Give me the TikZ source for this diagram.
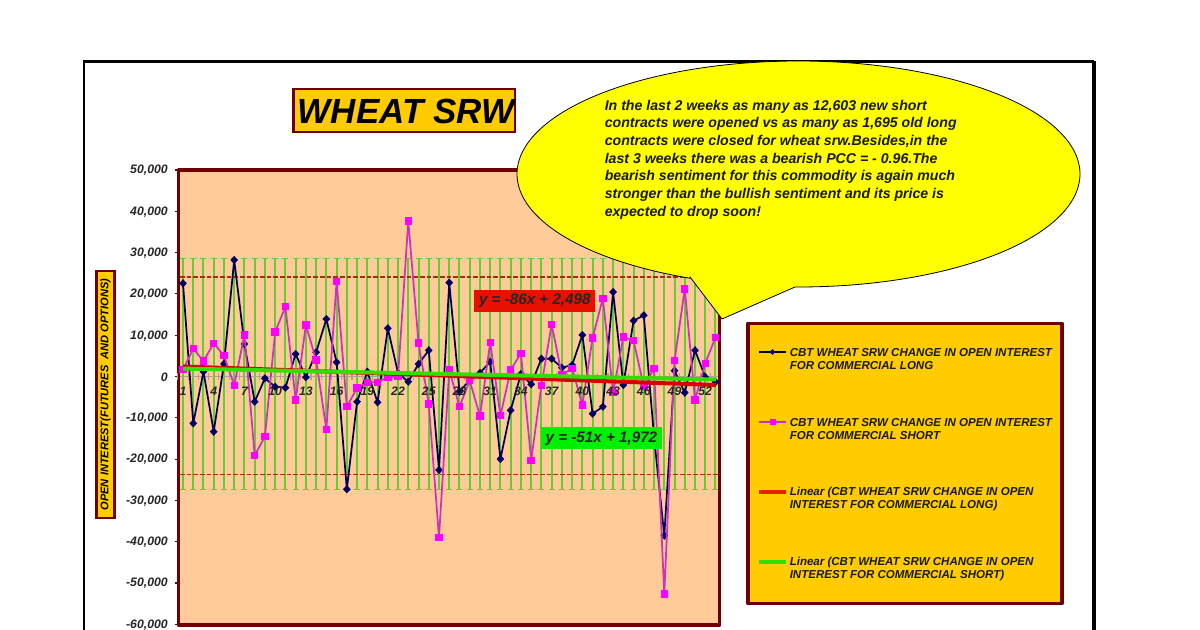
\documentclass[tikz,border=0pt]{standalone}
\usepackage{fontspec}
\setmainfont{Liberation Sans}
\definecolor{frameRed}{HTML}{6E0000}
\definecolor{peach}{HTML}{FFCC99}
\definecolor{gold}{HTML}{FFCC00}
\definecolor{errGreen}{HTML}{66CC33}
\definecolor{dashRed}{HTML}{A03010}
\definecolor{longNavy}{HTML}{000060}
\definecolor{shortLine}{HTML}{CC33BB}
\definecolor{magent}{HTML}{FF00FF}
\definecolor{axisTan}{HTML}{B0A090}
\definecolor{trendRed}{HTML}{D80000}
\definecolor{trendGreen}{HTML}{33DD00}
\definecolor{eqRed}{HTML}{E81000}
\definecolor{eqGreen}{HTML}{00F000}
\definecolor{balloonY}{HTML}{FFFF00}
\newcommand{\bi}{\bfseries\itshape}
\tikzset{
  x=0.75pt,y=-0.75pt,
  panel/.style={draw=frameRed,line width=2.5pt,line join=round},
  ticklabel/.style={font=\bi\fontsize{9.2}{10}\selectfont,inner sep=0pt,text=black!85},
  xlabel/.style={font=\bi\fontsize{9.2}{10}\selectfont,inner sep=0pt,text=black!85},
  legtext/.style={font=\bi\fontsize{8.65}{9.75}\selectfont,inner sep=0pt,align=left,anchor=west,text=black!90},
  eqlabel/.style={font=\bi\fontsize{11.4}{12}\selectfont,text=black!85,inner sep=0pt,minimum width=90.5pt,minimum height=16.5pt},
  seriesLong/.style={draw=longNavy!85!black,line width=1.3pt,line join=round},
  seriesShort/.style={draw=shortLine,line width=1.3pt,line join=round},
  errbar/.style={errGreen,line width=1.5pt},
}
\begin{document}
\begin{tikzpicture}
\useasboundingbox (0,0) rectangle (1200,630);
\fill[white] (0,0) rectangle (1200,630);
% outer frame
\draw[black,line width=1.6pt] (84,700) -- (84,61.5) -- (1094,61.5);
\draw[black,line width=2.3pt] (1094,61) -- (1094,700);
% plot panel
\filldraw[panel,fill=peach] (178.5,170) rectangle (719.5,625);
\foreach \v in {0,...,11} \draw[frameRed,line width=0.8pt] (174.5,{170+41.3*\v}) -- (178,{170+41.3*\v});
\foreach \v/\t in {0/{50,000},1/{40,000},2/{30,000},3/{20,000},4/{10,000},5/{0},6/{-10,000},7/{-20,000},8/{-30,000},9/{-40,000},10/{-50,000},11/{-60,000}}
  \node[ticklabel,anchor=east] (yl\v) at (168,{170.5+41.3*\v}) {\t};
% error bars
\foreach \i in {0,...,52} {
  \pgfmathsetmacro{\bx}{round(183+10.24*\i)}
  \draw[errbar] (\bx,258.5) -- (\bx,489.5);
  \draw[errbar,line width=1.1pt] (\bx-3.2,258.5) -- (\bx+3.2,258.5);
  \draw[errbar,line width=1.1pt] (\bx-3.2,489.5) -- (\bx+3.2,489.5);
}
% dashed limits
\draw[dashRed,line width=0.85pt,dash pattern=on 3.5pt off 1.5pt] (180,277) -- (718,277);
\draw[dashRed,line width=0.85pt,dash pattern=on 3.5pt off 1.5pt] (180,474.3) -- (718,474.3);
% zero axis
\draw[axisTan,line width=0.8pt] (180,376.7) -- (718,376.7);
\foreach \i in {0,...,52} \draw[axisTan,line width=0.8pt] ({177.9+10.24*\i},373.5) -- ({177.9+10.24*\i},380);
% series long
\draw[seriesLong] (183,283.3) \foreach \y [count=\i] in {423.3,371.7,431.7,364,260,344,401.7,378.3,386.7,387.7,354,377.3,352.3,319,362.3,489.3,401.7,371.7,402.3,328.3,373,381.7,364,350.3,470,282.7,391.7,380,373,361.7,459,410.3,374,384.3,358.7,358.7,367.7,365,335,413.7,406.7,292,385,320.7,315.3,437,535.7,370.7,392.7,350.3,377,382} { -- ({183+10.24*\i},\y) };
\foreach \y [count=\i from 0] in {283.3,423.3,371.7,431.7,364,260,344,401.7,378.3,386.7,387.7,354,377.3,352.3,319,362.3,489.3,401.7,371.7,402.3,328.3,373,381.7,364,350.3,470,282.7,391.7,380,373,361.7,459,410.3,374,384.3,358.7,358.7,367.7,365,335,413.7,406.7,292,385,320.7,315.3,437,535.7,370.7,392.7,350.3,377,382}
  \fill[longNavy] ({183+10.24*\i-3.9},\y) -- ({183+10.24*\i},\y-4.1) -- ({183+10.24*\i+3.9},\y) -- ({183+10.24*\i},\y+4.1) -- cycle;
% series short
\draw[seriesShort] (183,369.7) \foreach \y [count=\i] in {348.7,361,343.3,355.7,385.3,335,455.3,436.7,332,306.7,400,325,360,429.3,281.3,406.7,388,382.3,382.3,377.3,376.7,221,343,404,537.3,370,406.7,380.7,416,342.3,415.7,370,353.3,460.3,385.3,324.3,375,368.3,405,338,298.3,392.7,337,340.7,386.7,368.3,594,360.7,289,400,363.3,337.7} { -- ({183+10.24*\i},\y) };
\foreach \y [count=\i from 0] in {369.7,348.7,361,343.3,355.7,385.3,335,455.3,436.7,332,306.7,400,325,360,429.3,281.3,406.7,388,382.3,382.3,377.3,376.7,221,343,404,537.3,370,406.7,380.7,416,342.3,415.7,370,353.3,460.3,385.3,324.3,375,368.3,405,338,298.3,392.7,337,340.7,386.7,368.3,594,360.7,289,400,363.3,337.7}
  \fill[magent] ({183+10.24*\i-3.7},\y-3.7) rectangle ({183+10.24*\i+3.7},\y+3.7);
% trends
\draw[trendRed,line width=3pt] (183,366.5) -- (716,385);
\draw[trendGreen,line width=3pt] (183,368.6) -- (716,379.5);
% x labels
\foreach \n in {1,4,...,52}
  \node[xlabel] (xl\n) at ({183+10.24*(\n-1)},391.5) {\n};
% equations
\node[eqlabel,fill=eqRed] (eqlong) at (534.8,301) {y = -86x + 2,498};
\node[eqlabel,fill=eqGreen] (eqshort) at (601.4,438.3) {y = -51x + 1,972};
% title
\node[draw=frameRed,line width=1.7pt,fill=gold,minimum width=166pt,minimum height=32pt,inner sep=0pt] (title) at (404.2,110.5) {};
\node[inner sep=0pt,font=\bi\fontsize{26.2}{30}\selectfont] (titletext) at (406,111) {WHEAT SRW};
% y axis title
\node[draw=frameRed,line width=1.9pt,fill=gold,rotate=90,minimum width=185pt,minimum height=13.5pt,inner sep=0pt,font=\bi\fontsize{8.3}{10}\selectfont] (ytitle) at (105.5,394.5) {OPEN INTEREST(FUTURES\ \ AND OPTIONS)};
% balloon
\coordinate (tailA) at (690,277);
\coordinate (tailTip) at (722,319);
\coordinate (tailB) at (795,287);
\filldraw[draw=black,line width=0.6pt,fill=balloonY,line join=round] (tailB) -- plot[domain=90.7:-247.3,samples=220,smooth] ({798.5+281.5*cos(\x)},{174+113*sin(\x)}) -- (tailA) -- (tailTip) -- cycle;
\node[font=\bi\fontsize{10.6}{13.25}\selectfont,align=left,anchor=north west,inner sep=0pt,text=black!90] (balloontext) at (604.5,99.5) {In the last 2 weeks as many as 12,603 new short\\contracts were opened vs as many as 1,695 old long\\contracts were closed for wheat srw.Besides,in the\\last 3 weeks there was a bearish PCC = - 0.96.The\\bearish sentiment for this commodity is again much\\stronger than the bullish sentiment and its price is\\expected to drop soon!};
% legend
\filldraw[panel,fill=gold] (748,323.5) rectangle (1062,603.5);
\draw[black,line width=1.1pt] (759,352) -- (786,352);
\fill[longNavy] (772.5,349.2) -- (775.3,352) -- (772.5,354.8) -- (769.7,352) -- cycle;
\draw[shortLine,line width=1.1pt] (759,422) -- (786,422);
\fill[magent] (769.5,419) rectangle (775.5,425);
\draw[red!70!orange!90!black,line width=2.4pt] (759,492) -- (786,492);
\draw[trendGreen,line width=2.4pt] (759,562) -- (786,562);
\node[legtext] (leg1) at (789.5,359) {CBT WHEAT SRW CHANGE IN OPEN INTEREST\\FOR COMMERCIAL LONG};
\node[legtext] (leg2) at (789.5,429) {CBT WHEAT SRW CHANGE IN OPEN INTEREST\\FOR COMMERCIAL SHORT};
\node[legtext] (leg3) at (789.5,499) {Linear (CBT WHEAT SRW CHANGE IN OPEN\\INTEREST FOR COMMERCIAL LONG)};
\node[legtext] (leg4) at (789.5,569) {Linear (CBT WHEAT SRW CHANGE IN OPEN\\INTEREST FOR COMMERCIAL SHORT)};
\end{tikzpicture}
\end{document}
